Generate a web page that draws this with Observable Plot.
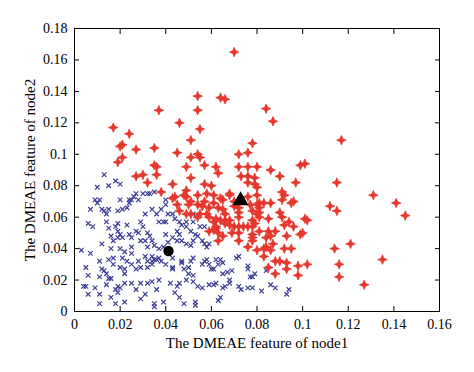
<!DOCTYPE html>
<html>
<head>
<meta charset="utf-8">
<script src="https://cdn.jsdelivr.net/npm/d3@7"></script>
<script src="https://cdn.jsdelivr.net/npm/@observablehq/plot@0.6"></script>
<style>
  html, body { margin: 0; padding: 0; background: white; }
</style>
</head>
<body>
<div id="chart"></div>
<script>
const xTitle = "The DMEAE feature of node1";
const yTitle = "The DMEAE feature of node2";
const xTicks = [0, 0.02, 0.04, 0.06, 0.08, 0.1, 0.12, 0.14, 0.16];
const xTickLabels = ["0", "0.02", "0.04", "0.06", "0.08", "0.1", "0.12", "0.14", "0.16"];
const yTicks = [0, 0.02, 0.04, 0.06, 0.08, 0.1, 0.12, 0.14, 0.16, 0.18];
const yTickLabels = ["0", "0.02", "0.04", "0.06", "0.08", "0.1", "0.12", "0.14", "0.16", "0.18"];

// Cluster 2 (red)
const redPts = [
[0.070,0.165],[0.054,0.137],[0.064,0.136],[0.066,0.135],[0.037,0.128],[0.054,0.128],[0.084,0.129],[0.087,0.121],
[0.046,0.120],[0.017,0.117],[0.055,0.116],[0.024,0.113],[0.051,0.109],[0.117,0.109],[0.078,0.107],[0.020,0.105],
[0.021,0.106],[0.027,0.103],[0.035,0.104],[0.045,0.101],[0.054,0.100],[0.072,0.100],[0.076,0.101],[0.021,0.098],
[0.019,0.095],[0.051,0.098],[0.055,0.098],[0.035,0.093],[0.036,0.092],[0.057,0.093],[0.049,0.092],[0.062,0.092],
[0.072,0.092],[0.076,0.092],[0.080,0.092],[0.099,0.093],[0.101,0.094],[0.063,0.088],[0.086,0.090],[0.027,0.086],
[0.030,0.087],[0.036,0.087],[0.051,0.085],[0.090,0.086],[0.073,0.086],[0.076,0.086],[0.079,0.085],[0.097,0.082],
[0.115,0.082],[0.032,0.082],[0.043,0.081],[0.057,0.081],[0.060,0.080],[0.076,0.082],[0.079,0.081],[0.080,0.079],
[0.038,0.076],[0.049,0.077],[0.068,0.075],[0.091,0.076],[0.092,0.074],[0.054,0.074],[0.131,0.074],[0.044,0.073],
[0.043,0.072],[0.048,0.074],[0.049,0.073],[0.064,0.072],[0.065,0.071],[0.068,0.074],[0.080,0.074],[0.086,0.069],
[0.091,0.071],[0.095,0.069],[0.096,0.070],[0.141,0.069],[0.045,0.068],[0.051,0.070],[0.050,0.068],[0.054,0.068],
[0.056,0.067],[0.059,0.066],[0.063,0.066],[0.065,0.065],[0.072,0.066],[0.081,0.069],[0.081,0.066],[0.112,0.067],
[0.115,0.064],[0.145,0.061],[0.101,0.059],[0.102,0.058],[0.094,0.057],[0.096,0.054],[0.100,0.050],[0.099,0.049],
[0.121,0.043],[0.114,0.040],[0.135,0.033],[0.116,0.030],[0.116,0.022],[0.127,0.017],[0.102,0.030],[0.098,0.029],
[0.098,0.023],[0.095,0.040],[0.092,0.040],[0.088,0.032],[0.090,0.032],[0.093,0.031],[0.093,0.027],[0.088,0.024],
[0.085,0.028],[0.083,0.035],
[0.055,0.062],[0.054,0.060],[0.058,0.062],[0.059,0.060],[0.061,0.057],[0.062,0.059],[0.062,0.054],[0.064,0.058],
[0.066,0.058],[0.066,0.056],[0.068,0.058],[0.068,0.055],[0.070,0.054],[0.072,0.054],[0.072,0.060],[0.072,0.063],
[0.074,0.054],[0.076,0.054],[0.078,0.054],[0.078,0.058],[0.079,0.056],[0.080,0.062],[0.081,0.063],[0.081,0.060],
[0.081,0.051],[0.078,0.049],[0.078,0.047],[0.078,0.045],[0.076,0.041],[0.072,0.045],[0.072,0.050],[0.069,0.050],
[0.065,0.048],[0.063,0.050],[0.061,0.052],[0.059,0.051],[0.063,0.045],[0.085,0.059],[0.085,0.051],[0.084,0.047],
[0.084,0.041],[0.086,0.048],[0.087,0.043],[0.086,0.039],[0.088,0.051],[0.090,0.063],[0.091,0.060],[0.092,0.055],
[0.093,0.048],[0.083,0.040],[0.080,0.039],[0.051,0.062],[0.070,0.070],[0.070,0.067],[0.077,0.068],[0.076,0.073],
[0.080,0.068],[0.083,0.069],[0.061,0.069],[0.061,0.074],[0.058,0.075],[0.057,0.070],[0.046,0.064],[0.049,0.062],
[0.062,0.053],[0.066,0.062],[0.078,0.064]
];

// Cluster 1 (blue)
const bluePts = [
[0.013,0.087],[0.018,0.083],[0.020,0.081],[0.015,0.080],[0.010,0.079],[0.020,0.071],[0.009,0.071],[0.011,0.071],
[0.010,0.069],[0.007,0.065],[0.012,0.065],[0.013,0.064],[0.014,0.062],[0.015,0.065],[0.019,0.064],[0.021,0.065],
[0.023,0.066],[0.024,0.069],[0.025,0.071],[0.026,0.073],[0.027,0.075],[0.030,0.075],[0.032,0.075],[0.033,0.075],
[0.035,0.076],[0.028,0.071],[0.024,0.071],[0.006,0.056],[0.008,0.054],[0.003,0.039],[0.007,0.037],[0.005,0.028],
[0.006,0.023],[0.004,0.016],[0.005,0.016],[0.006,0.011],[0.009,0.015],[0.011,0.011],[0.011,0.005],[0.011,0.022],
[0.012,0.027],[0.011,0.032],[0.012,0.043],[0.014,0.057],[0.015,0.053],[0.016,0.048],[0.017,0.045],[0.013,0.026],
[0.014,0.024],[0.015,0.021],[0.014,0.017],[0.016,0.021],[0.016,0.009],[0.018,0.005],[0.018,0.014],[0.019,0.012],
[0.019,0.016],[0.020,0.015],[0.017,0.034],[0.017,0.030],[0.015,0.033],[0.016,0.040],[0.018,0.054],[0.019,0.056],
[0.019,0.051],[0.020,0.049],[0.019,0.047],[0.021,0.047],[0.020,0.040],[0.022,0.038],[0.021,0.034],[0.020,0.028],
[0.023,0.032],[0.022,0.027],[0.022,0.024],[0.022,0.018],[0.022,0.006],[0.023,0.055],[0.024,0.049],[0.025,0.047],
[0.025,0.041],[0.025,0.037],[0.025,0.030],[0.027,0.027],[0.025,0.018],[0.027,0.014],[0.029,0.008],[0.031,0.011],
[0.029,0.018],[0.032,0.018],[0.034,0.019],[0.027,0.051],[0.028,0.050],[0.029,0.045],[0.029,0.057],[0.031,0.062],
[0.030,0.054],[0.032,0.050],[0.033,0.048],[0.031,0.045],[0.032,0.041],[0.031,0.035],[0.028,0.032],[0.032,0.032],
[0.029,0.028],[0.032,0.028],[0.034,0.035],[0.034,0.032],[0.034,0.030],[0.035,0.033],[0.036,0.033],[0.037,0.034],
[0.034,0.045],[0.035,0.042],[0.034,0.065],[0.036,0.062],[0.038,0.065],[0.037,0.057],[0.039,0.057],[0.040,0.057],
[0.040,0.068],[0.040,0.071],[0.041,0.062],[0.043,0.062],[0.044,0.059],[0.046,0.057],[0.047,0.055],[0.049,0.057],
[0.045,0.051],[0.046,0.049],[0.043,0.047],[0.045,0.045],[0.047,0.045],[0.049,0.043],[0.051,0.042],[0.052,0.045],
[0.053,0.049],[0.051,0.051],[0.049,0.054],[0.055,0.054],[0.057,0.054],[0.052,0.057],[0.052,0.062],[0.054,0.048],
[0.056,0.045],[0.058,0.041],[0.059,0.043],[0.040,0.049],[0.041,0.044],[0.037,0.040],[0.038,0.032],[0.040,0.030],
[0.043,0.034],[0.043,0.028],[0.043,0.027],[0.047,0.031],[0.048,0.027],[0.047,0.032],[0.050,0.028],[0.051,0.032],
[0.052,0.034],[0.050,0.024],[0.052,0.023],[0.052,0.019],[0.049,0.020],[0.046,0.018],[0.042,0.018],[0.045,0.016],
[0.048,0.005],[0.053,0.006],[0.053,0.004],[0.046,0.009],[0.044,0.012],[0.035,0.005],[0.035,0.003],[0.039,0.006],
[0.036,0.014],[0.037,0.020],[0.054,0.016],[0.056,0.015],[0.056,0.030],[0.057,0.032],[0.058,0.033],[0.059,0.030],
[0.061,0.027],[0.060,0.027],[0.062,0.033],[0.063,0.030],[0.064,0.033],[0.065,0.031],[0.062,0.018],[0.061,0.017],
[0.059,0.017],[0.063,0.007],[0.064,0.009],[0.065,0.015],[0.066,0.016],[0.068,0.018],[0.068,0.020],[0.065,0.024],
[0.067,0.025],[0.069,0.026],[0.071,0.034],[0.072,0.035],[0.072,0.016],[0.073,0.014],[0.076,0.029],[0.076,0.027],
[0.077,0.022],[0.078,0.022],[0.079,0.024],[0.076,0.015],[0.078,0.015],[0.082,0.013],[0.084,0.026],[0.086,0.017],
[0.088,0.015],[0.093,0.011],[0.094,0.014],[0.057,0.043],[0.042,0.038],[0.039,0.041]
];

// Cluster centres
const centre1 = [[0.0412, 0.0385]];
const centre2 = [[0.0728, 0.0705]];

const redColor = "#e5372d";
const blueColor = "#3c3d96";

// four-pointed star symbol for the red markers
const star4 = {
  draw(ctx, size) {
    const r = Math.sqrt(size / Math.PI);
    const w = r * 0.3;
    ctx.moveTo(0, -r);
    ctx.lineTo(w, -w);
    ctx.lineTo(r, 0);
    ctx.lineTo(w, w);
    ctx.lineTo(0, r);
    ctx.lineTo(-w, w);
    ctx.lineTo(-r, 0);
    ctx.lineTo(-w, -w);
    ctx.closePath();
  }
};

const xLab = new Map(xTicks.map((t, i) => [t, xTickLabels[i]]));
const yLab = new Map(yTicks.map((t, i) => [t, yTickLabels[i]]));

const chart = Plot.plot({
  width: 474,
  height: 372,
  marginLeft: 74,
  marginRight: 35,
  marginTop: 28,
  marginBottom: 61,
  x: { domain: [0, 0.16] },
  y: { domain: [0, 0.18] },
  style: { fontFamily: "Liberation Serif", fontSize: "14px", color: "black", background: "white" },
  marks: [
    Plot.frame({ stroke: "black", strokeWidth: 1 }),
    Plot.axisX(xTicks, { anchor: "bottom", tickSize: -5, tickPadding: 13, tickFormat: d => xLab.get(d), label: null, fontSize: 14 }),
    Plot.axisX(xTicks, { anchor: "top", tickSize: -5, tickFormat: () => "", label: null }),
    Plot.axisY(yTicks, { anchor: "left", tickSize: -5, tickPadding: 12, tickFormat: d => yLab.get(d), label: null, fontSize: 14 }),
    Plot.axisY(yTicks, { anchor: "right", tickSize: -5, tickFormat: () => "", label: null }),
    Plot.dot(bluePts, { x: d => d[0], y: d => d[1], symbol: "times", r: 2.2, stroke: blueColor, strokeWidth: 1.2 }),
    Plot.dot(redPts, { x: d => d[0], y: d => d[1], symbol: star4, r: 4.8, fill: redColor, stroke: redColor, strokeWidth: 0.7 }),
    Plot.dot(centre1, { x: d => d[0], y: d => d[1], symbol: "circle", r: 5.2, fill: "black" }),
    Plot.dot(centre2, { x: d => d[0], y: d => d[1], symbol: "triangle", r: 6, fill: "black" }),
    Plot.text([xTitle], { frameAnchor: "bottom", dy: 36, fontSize: 15, fill: "black", textAnchor: "middle" }),
    Plot.text([yTitle], { frameAnchor: "left", dx: -44, rotate: -90, fontSize: 15, fill: "black", textAnchor: "middle" })
  ]
});
document.getElementById("chart").appendChild(chart);
</script>
</body>
</html>
